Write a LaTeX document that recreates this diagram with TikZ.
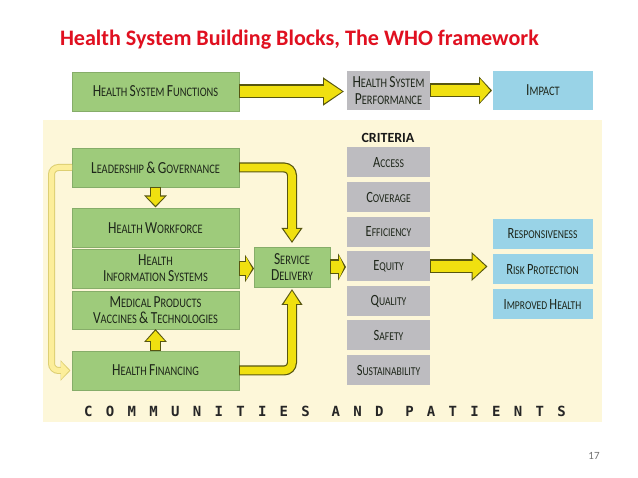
\documentclass[tikz,border=0pt]{standalone}
\usepackage{fontspec}
\setmainfont{Carlito}
\newfontfamily\labelfont[FakeStretch=0.8]{Carlito}
\newfontfamily\bandfont[LetterSpace=95]{DejaVu Sans Mono}
\usetikzlibrary{arrows.meta}
\definecolor{panelcol}{HTML}{FDF7D9}
\definecolor{greencol}{HTML}{9ECB7B}
\definecolor{greycol}{HTML}{BDBCC0}
\definecolor{bluecol}{HTML}{99D3E7}
\definecolor{yellowcol}{HTML}{F0E010}
\definecolor{edgecol}{HTML}{57560F}
\definecolor{palecol}{HTML}{FCEE9A}
\definecolor{paleedge}{HTML}{DDCF72}
\definecolor{titlecol}{HTML}{E01020}
\definecolor{inkcol}{HTML}{1E261A}
\makeatletter
\newcommand{\cp}[1]{{\dimen0=\f@size pt \dimen0=1.3\dimen0 \fontsize{\strip@pt\dimen0}{0pt}\selectfont #1}}
\makeatother
\begin{document}
\begin{tikzpicture}[x=1pt,y=-1pt,inner sep=0pt,outer sep=0pt,
basebox/.style={rectangle,align=center,text=inkcol,font=\labelfont\fontsize{13}{16}\selectfont},
greenbox/.style={basebox,fill=greencol,draw=greencol!85!black,line width=.4pt,minimum width=167pt,minimum height=39pt},
greybox/.style={basebox,fill=greycol,minimum width=83pt,minimum height=30pt,font=\labelfont\fontsize{12}{14}\selectfont},
bluebox/.style={basebox,fill=bluecol,minimum width=100pt,minimum height=30pt,font=\labelfont\fontsize{12}{14}\selectfont},
% shaft width, head width, head length, gap at the target
flow/.style n args={4}{line join=round,rounded corners=8pt,draw=yellowcol,line width=#1-2.4pt,
  shorten <=1.2pt,shorten >=#4+1.8pt,-{Triangle[width=#2-4.5pt,length=#3-3pt,fill=yellowcol,color=yellowcol]},
  preaction={draw=edgecol,line width=#1,shorten <=0pt,shorten >=#4,
  -{Triangle[width=#2,length=#3,fill=edgecol,color=edgecol]}}},
paleflow/.style={line join=round,rounded corners=7pt,draw=palecol,line width=5pt,
  shorten >=3pt,-{Triangle[width=17pt,length=8pt,fill=palecol,color=palecol]},
  preaction={draw=paleedge,line width=7pt,shorten >=1.5pt,
  -{Triangle[width=20pt,length=10pt,fill=paleedge,color=paleedge]}}}]
\useasboundingbox (0,0) rectangle (638,478);
\fill[white] (0,0) rectangle (638,478);
\draw (60,40) node[anchor=west,text=titlecol,font=\fontsize{22.1}{24}\selectfont\bfseries] (title) {Health System Building Blocks, The WHO framework};
\draw (322.5,271) node[fill=panelcol,minimum width=559pt,minimum height=302pt] (panel) {};
% top row
\draw (155.5,91.5) node[greenbox] (hsf) {\cp{H}EALTH \cp{S}YSTEM \cp{F}UNCTIONS};
\draw (388.5,90.5) node[greybox,minimum height=39pt,font=\labelfont\fontsize{13}{17}\selectfont] (hsp) {\cp{H}EALTH \cp{S}YSTEM\\\cp{P}ERFORMANCE};
\draw (543,90.5) node[bluebox,minimum height=39pt,font=\labelfont\fontsize{13}{16}\selectfont] (impact) {\cp{I}MPACT};
% building blocks
\draw (155.5,167.5) node[greenbox] (lead) {\cp{L}EADERSHIP \cp{\&} \cp{G}OVERNANCE};
\draw (155.5,228) node[greenbox] (work) {\cp{H}EALTH \cp{W}ORKFORCE};
\draw (155.5,268.5) node[greenbox] (his) {\cp{H}EALTH\\\cp{I}NFORMATION \cp{S}YSTEMS};
\draw (155.5,310) node[greenbox,minimum height=38pt] (med) {\cp{M}EDICAL \cp{P}RODUCTS\\\cp{V}ACCINES \cp{\&} \cp{T}ECHNOLOGIES};
\draw (155.5,370.5) node[greenbox] (fin) {\cp{H}EALTH \cp{F}INANCING};
\draw (292,267) node[greenbox,minimum width=76pt,minimum height=40pt] (svc) {\cp{S}ERVICE\\\cp{D}ELIVERY};
% criteria
\draw (388,138) node[text=black!90,font=\fontsize{14}{16}\selectfont\bfseries] (crit) {CRITERIA};
\draw (388.5,162.5) node[greybox] (access) {\cp{A}CCESS};
\draw (388.5,197) node[greybox] (cover) {\cp{C}OVERAGE};
\draw (388.5,232) node[greybox] (effic) {\cp{E}FFICIENCY};
\draw (388.5,266.5) node[greybox] (equity) {\cp{E}QUITY};
\draw (388.5,301) node[greybox] (quality) {\cp{Q}UALITY};
\draw (388.5,335.5) node[greybox] (safety) {\cp{S}AFETY};
\draw (388.5,370.5) node[greybox] (sustain) {\cp{S}USTAINABILITY};
% outcomes
\draw (542.5,234) node[bluebox] (resp) {\cp{R}ESPONSIVENESS};
\draw (542.5,269.5) node[bluebox] (risk) {\cp{R}ISK \cp{P}ROTECTION};
\draw (542.5,304.5) node[bluebox] (health) {\cp{I}MPROVED \cp{H}EALTH};
\draw (325,411) node[text=black!85,font=\bandfont\fontsize{14}{16}\selectfont\bfseries] (comm) {COMMUNITIES AND PATIENTS};
\draw (594,456) node[text=black!55,font=\fontsize{11}{13}\selectfont] (page) {17};
% arrows
\draw[paleflow] (lead.west) -- ++(-20.5,0) |- (fin.west);
\draw[flow={14pt}{27pt}{21pt}{3pt}] (hsf.east) -- (hsf.east -| hsp.west);
\draw[flow={14pt}{27pt}{13pt}{1pt}] (hsp.east) -- (hsp.east -| impact.west);
\draw[flow={11pt}{22pt}{12pt}{1pt}] (lead.south) -- (work.north);
\draw[flow={15pt}{27pt}{9pt}{0pt}] (his.east) -- (his.east -| svc.west);
\draw[flow={11pt}{22pt}{13pt}{0pt}] (fin.north) -- (med.south);
\draw[flow={10pt}{20pt}{15pt}{4pt}] (lead.east) -| (svc.north);
\draw[flow={10pt}{20pt}{16pt}{2pt}] (fin.east) -| (svc.south);
\draw[flow={15pt}{27pt}{8pt}{1pt}] (svc.east) -- (svc.east -| equity.west);
\draw[flow={14pt}{28pt}{16pt}{5pt}] (equity.east) -- (equity.east -| risk.west);
\end{tikzpicture}
\end{document}
